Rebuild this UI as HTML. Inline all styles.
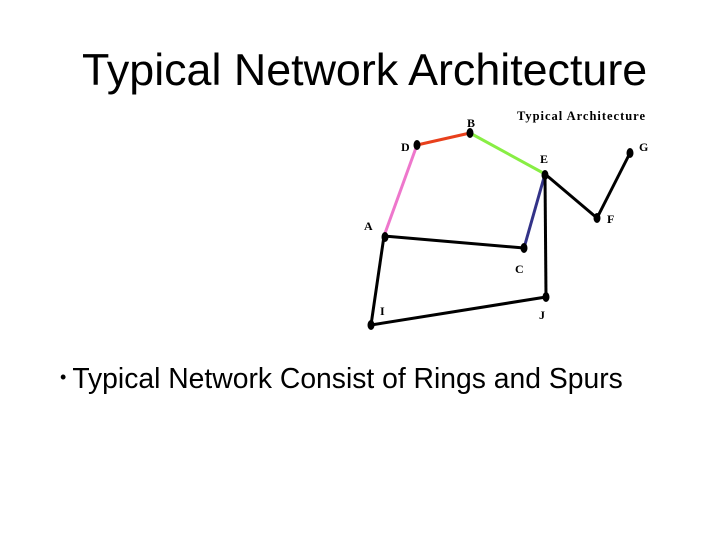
<!DOCTYPE html>
<html><head><style>
body{margin:0;width:728px;height:546px;background:#fff;overflow:hidden;position:relative;font-family:"Liberation Sans",sans-serif}
.t{position:absolute;left:82px;top:48px;font-size:44.8px;line-height:45px;white-space:nowrap;color:#000}
.b{position:absolute;left:60px;top:363px;font-size:28.3px;line-height:28px;white-space:nowrap}
.b span{font-size:18px;vertical-align:5px;margin-right:6px}
</style></head><body>
<div class="t">Typical Network Architecture</div>
<div class="b"><span>•</span>Typical Network Consist of Rings and Spurs</div>
<svg width="728" height="546" style="position:absolute;left:0;top:0" font-family="Liberation Serif" font-weight="bold" font-size="12">
<g stroke-width="3" fill="none">
<line x1="417" y1="145" x2="470" y2="133" stroke="#e8401c"/>
<line x1="470" y1="133" x2="545" y2="174" stroke="#88ee44"/>
<line x1="417" y1="145" x2="384" y2="236" stroke="#ee77cc"/>
<line x1="545" y1="174" x2="524" y2="248" stroke="#333388"/>
<g stroke="#000">
<line x1="545" y1="174" x2="546" y2="297"/>
<line x1="545" y1="174" x2="597" y2="218"/>
<line x1="597" y1="218" x2="630" y2="153"/>
<line x1="384" y1="236" x2="524" y2="248"/>
<line x1="384" y1="236" x2="371" y2="325"/>
<line x1="371" y1="325" x2="546" y2="297"/>
</g></g>
<g fill="#000">
<ellipse cx="470" cy="133" rx="3.5" ry="5"/><ellipse cx="417" cy="145" rx="3.5" ry="5"/>
<ellipse cx="545" cy="175" rx="3.5" ry="5"/><ellipse cx="385" cy="237" rx="3.5" ry="5"/>
<ellipse cx="524" cy="248" rx="3.5" ry="5"/><ellipse cx="597" cy="218" rx="3.5" ry="5"/>
<ellipse cx="630" cy="153" rx="3.5" ry="5"/><ellipse cx="371" cy="325" rx="3.5" ry="5"/>
<ellipse cx="546" cy="297" rx="3.5" ry="5"/>
<text x="467" y="127">B</text><text x="401" y="151">D</text><text x="540" y="163">E</text>
<text x="364" y="230">A</text><text x="515" y="273">C</text><text x="607" y="223">F</text>
<text x="639" y="151">G</text><text x="380" y="315">I</text><text x="539" y="319">J</text>
<text x="517" y="120" font-size="12.5" textLength="128" lengthAdjust="spacing">Typical  Architecture</text>
</g></svg>
</body></html>
